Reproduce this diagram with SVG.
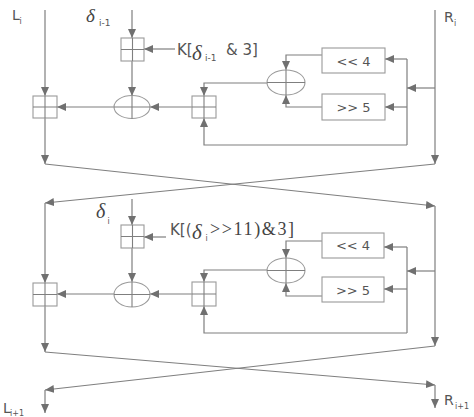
<svg xmlns="http://www.w3.org/2000/svg" width="474" height="417" viewBox="0 0 474 417">
<defs>
<marker id="ah" markerUnits="userSpaceOnUse" markerWidth="9" markerHeight="8" refX="9" refY="4" orient="auto">
<path d="M0,0 L9,4 L0,8 z" fill="#707070"/>
</marker>
<style>
.c{fill:none;stroke:#7f7f7f;stroke-width:1.2;marker-end:url(#ah)}
.l{fill:none;stroke:#7f7f7f;stroke-width:1.2}
.b{fill:#fff;stroke:#9a9a9a;stroke-width:1.1}
.x{stroke:#7f7f7f;stroke-width:1.1}
.t{font-family:"DejaVu Sans","Liberation Sans",sans-serif;fill:#555}
.d{font-family:"Liberation Serif",serif;font-style:italic;fill:#444}
.s{font-family:"Liberation Serif",serif;fill:#444}
</style>
</defs>
<rect width="474" height="417" fill="#fff"/>
<g id="connectors">
<!-- top half -->
<path class="c" d="M45,10 V96"/>
<path class="c" d="M45,118 V164"/>
<path class="c" d="M435,10 V164"/>
<path class="c" d="M45,164 L435,206"/>
<path class="c" d="M435,164 L45,203"/>
<path class="c" d="M132,10 V38"/>
<path class="c" d="M175,49 H144"/>
<path class="c" d="M132,61 V96"/>
<path class="c" d="M114,107 H57"/>
<path class="c" d="M192,107 H150"/>
<path class="c" d="M435,88 H407"/>
<path class="l" d="M407,59 V145"/>
<path class="c" d="M407,59 H385"/>
<path class="c" d="M407,107 H385"/>
<path class="c" d="M322,55 H286 V70"/>
<path class="c" d="M322,107 H286 V95"/>
<path class="c" d="M267,83 H204 V96"/>
<path class="c" d="M407,145 H204 V118"/>
<!-- bottom half -->
<path class="c" d="M45,203 V283"/>
<path class="c" d="M45,306 V352"/>
<path class="c" d="M435,206 V346"/>
<path class="c" d="M45,352 L435,385"/>
<path class="c" d="M435,346 L45,390"/>
<path class="c" d="M45,390 V413"/>
<path class="c" d="M435,385 V408"/>
<path class="c" d="M132,199 V225"/>
<path class="c" d="M166,237 H144"/>
<path class="c" d="M132,248 V282"/>
<path class="c" d="M114,294 H57"/>
<path class="c" d="M192,294 H150"/>
<path class="c" d="M435,271 H407"/>
<path class="l" d="M407,247 V333"/>
<path class="c" d="M407,247 H384"/>
<path class="c" d="M407,289 H384"/>
<path class="c" d="M322,241 H286 V258"/>
<path class="c" d="M322,296 H286 V283"/>
<path class="c" d="M267,270 H204 V282"/>
<path class="c" d="M407,333 H204 V306"/>
</g>
<!-- top round nodes -->
<g id="addL1"><rect class="b" x="33" y="96" width="24" height="22"/><path class="x" d="M33,107 H57 M45,96 V118"/></g>
<g id="addK1"><rect class="b" x="121" y="38" width="23" height="23"/><path class="x" d="M121,49.5 H144 M132.5,38 V61"/></g>
<g id="xor1"><ellipse class="b" cx="132" cy="107" rx="18" ry="11.5"/><path class="x" d="M114,107 H150 M132,95.5 V118.5"/></g>
<g id="addR1"><rect class="b" x="192" y="96" width="24" height="22"/><path class="x" d="M192,107 H216 M204,96 V118"/></g>
<g id="xorS1"><ellipse class="b" cx="286" cy="82.5" rx="19" ry="12.5"/><path class="x" d="M267,82.5 H305 M286,70 V95"/></g>
<g id="shl1"><rect class="b" x="322" y="48" width="63" height="25"/><text class="t" x="353.5" y="65.5" font-size="13" text-anchor="middle">&lt;&lt; 4</text></g>
<g id="shr1"><rect class="b" x="322" y="94" width="63" height="26"/><text class="t" x="353.5" y="112" font-size="13" text-anchor="middle">&gt;&gt; 5</text></g>
<!-- bottom round nodes -->
<g id="addL2"><rect class="b" x="33" y="283" width="24" height="23"/><path class="x" d="M33,294.5 H57 M45,283 V306"/></g>
<g id="addK2"><rect class="b" x="121" y="225" width="23" height="23"/><path class="x" d="M121,236.5 H144 M132.5,225 V248"/></g>
<g id="xor2"><ellipse class="b" cx="132" cy="294.5" rx="18" ry="12.5"/><path class="x" d="M114,294.5 H150 M132,282 V307"/></g>
<g id="addR2"><rect class="b" x="192" y="282" width="24" height="24"/><path class="x" d="M192,294 H216 M204,282 V306"/></g>
<g id="xorS2"><ellipse class="b" cx="286" cy="270.5" rx="19" ry="12.5"/><path class="x" d="M267,270.5 H305 M286,258 V283"/></g>
<g id="shl2"><rect class="b" x="322" y="233" width="62" height="25"/><text class="t" x="353" y="250" font-size="13" text-anchor="middle">&lt;&lt; 4</text></g>
<g id="shr2"><rect class="b" x="322" y="277" width="62" height="25"/><text class="t" x="353" y="294.5" font-size="13" text-anchor="middle">&gt;&gt; 5</text></g>
<!-- labels -->
<g id="labels">
<text class="t" x="12" y="20" font-size="14">L</text><text class="t" x="19.5" y="24" font-size="8">i</text>
<text class="t" x="444" y="22" font-size="14">R</text><text class="t" x="454" y="26" font-size="8">i</text>
<text class="t" x="3" y="413" font-size="14">L</text><text class="t" x="10" y="416" font-size="8">i+1</text>
<text class="t" x="444" y="405" font-size="14">R</text><text class="t" x="455" y="409" font-size="8">i+1</text>
<text class="d" x="86" y="22" font-size="19">δ</text><text class="t" x="99" y="26" font-size="9">i-1</text>
<text class="t" x="177" y="55" font-size="15">K[</text>
<text class="d" x="192" y="60" font-size="21">δ</text><text class="t" x="205" y="61" font-size="9">i-1</text>
<text class="t" x="226" y="55" font-size="15">&amp; 3]</text>
<text class="d" x="96" y="218" font-size="20">δ</text><text class="t" x="107.5" y="224" font-size="8">i</text>
<text class="t" x="170" y="235" font-size="15">K[(</text>
<text class="d" x="192" y="239" font-size="21">δ</text><text class="t" x="205.5" y="241" font-size="8">i</text>
<text class="s" x="210" y="235" font-size="18" textLength="84" lengthAdjust="spacing">&gt;&gt;11)&amp;3]</text>
</g>
</svg>
